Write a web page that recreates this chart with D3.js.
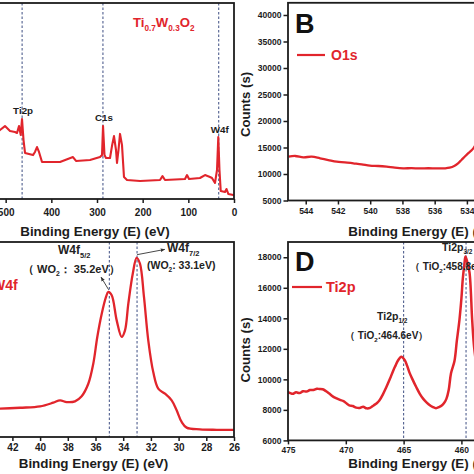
<!DOCTYPE html>
<html><head><meta charset="utf-8">
<script src="https://cdn.jsdelivr.net/npm/d3@7"></script>
<style>body{margin:0;background:#fff} svg{display:block} text{font-family:"Liberation Sans",Arial,Helvetica,sans-serif}</style>
</head><body><svg id="c" width="474" height="474"></svg>
<script>
// ---------- DATA ----------
// A: survey spectrum (binding energy eV, intensity a.u.)
const surveyE = [520, 512.4, 501.5, 490.5, 479.6, 475.2, 470.8, 467.1, 464.2, 460.9, 457.6, 440.2, 435.8, 431.4, 427.0, 420.4, 381.0, 352.6, 346.0, 315.3, 293.4, 289.0, 286.8, 283.6, 280.3, 271.5, 267.2, 262.8, 258.4, 256.2, 252.9, 249.6, 245.3, 240.9, 234.3, 205.8, 162.0, 156.6, 151.1, 107.3, 102.9, 98.5, 74.5, 63.5, 52.6, 48.2, 41.6, 37.2, 34.4, 31.8, 29.1, 19.7, 16.4, 12.5, 1.5, 0];
const surveyI = [34.0, 35.2, 37.2, 34.7, 34.2, 33.7, 37.2, 32.7, 40.8, 30.1, 23.5, 22.4, 24.0, 26.5, 24.0, 18.9, 18.9, 21.4, 19.4, 19.9, 21.4, 22.4, 37.2, 22.4, 20.9, 20.9, 27.0, 32.1, 25.0, 18.4, 25.0, 33.2, 27.6, 11.2, 9.7, 9.2, 9.7, 11.7, 9.7, 10.2, 12.2, 10.2, 10.7, 12.2, 11.2, 10.7, 8.2, 14.8, 31.6, 14.8, 4.1, 3.6, 5.1, 2.6, 2.0, 1.8];
const surveyTicks = [600, 500, 400, 300, 200, 100, 0];
const surveyPeaks = [464, 287, 33.5];
const surveyPeakNames = ["Ti2p", "C1s", "W4f"];

// B: O1s
const o1sE = [545.07, 544.66, 544.14, 543.63, 543.11, 542.6, 542.08, 541.57, 541.05, 540.53, 540.02, 539.5, 538.98, 538.47, 537.95, 537.44, 536.92, 536.4, 535.89, 535.37, 535.07, 534.76, 534.55, 534.34, 534.14, 533.93, 533.73, 533.6, 533.3, 533.0, 532.5, 532.0, 531.5, 531.0, 530.5, 530.0, 529.5, 529.0, 528.0];
const o1sI = [13260, 13400, 13150, 13260, 12960, 12640, 12320, 12210, 12020, 11830, 11570, 11510, 11380, 11190, 11075, 11100, 11050, 11080, 11060, 11075, 11190, 11570, 12020, 12640, 13260, 13900, 14400, 14850, 16500, 19000, 25000, 32000, 38000, 40500, 38000, 28000, 17000, 12000, 10500];
const o1sTicks = [544, 542, 540, 538, 536, 534, 532, 530];
const o1sCountTicks = [5000, 10000, 15000, 20000, 25000, 30000, 35000, 40000];

// C: W4f
const w4fE = [46, 44.5, 42.9, 41.45, 40.0, 39.05, 38.56, 38.08, 37.48, 37.0, 36.52, 36.16, 35.87, 35.55, 35.24, 35.08, 34.83, 34.47, 34.11, 33.87, 33.63, 33.31, 33.03, 32.79, 32.5, 32.19, 31.83, 31.47, 30.98, 30.5, 30.14, 29.78, 29.42, 28.45, 27.24, 26];
const w4fI = [13.8, 14.2, 14.5, 15.0, 15.7, 17.6, 18.8, 17.9, 18.3, 20.9, 27.3, 37.6, 51.3, 63.2, 71.8, 74.4, 72.7, 59.8, 51.3, 54.7, 68.4, 83.7, 91.9, 88.9, 71.8, 49.6, 33.3, 24.8, 22.2, 18.8, 13.7, 7.7, 4.8, 3.9, 3.7, 3.7];
const w4fTicks = [46, 44, 42, 40, 38, 36, 34, 32, 30, 28, 26];
const w4fPeaks = [35.0, 33.0];

// D: Ti2p
const ti2pE = [475.1, 474.8, 474.6, 474.3, 474.0, 473.7, 473.4, 473.1, 472.8, 472.5, 472.3, 472.0, 471.7, 471.4, 471.1, 470.8, 470.5, 470.2, 469.9, 469.7, 469.4, 469.1, 468.8, 468.5, 468.2, 467.9, 467.6, 467.3, 467.1, 466.8, 466.5, 466.2, 465.9, 465.7, 465.5, 465.2, 464.9, 464.7, 464.5, 464.2, 463.9, 463.6, 463.3, 463.0, 462.7, 462.5, 462.2, 461.9, 461.7, 461.5, 461.3, 461.1, 460.9, 460.6, 460.4, 460.17, 460.0, 459.88, 459.75, 459.65, 459.5, 459.3, 459.07, 458.9, 458.6, 458.3, 458.0, 457.5, 456.0, 454.0, 452.0, 451.0];
const ti2pI = [9200, 9100, 9050, 9150, 9100, 9220, 9200, 9300, 9300, 9380, 9370, 9350, 9220, 9050, 8870, 8750, 8650, 8570, 8400, 8290, 8250, 8150, 8130, 8200, 8100, 8130, 8290, 8450, 8610, 9000, 9480, 10000, 10570, 10900, 11220, 11480, 11260, 10900, 10460, 9950, 9480, 9050, 8720, 8480, 8290, 8200, 8110, 8200, 8290, 8450, 8720, 9300, 10400, 11200, 12500, 13900, 15300, 16600, 17500, 18050, 17700, 17000, 13900, 12100, 10500, 9600, 9000, 8600, 8300, 8200, 8100, 8100];
const ti2pTicks = [475, 470, 465, 460, 455];
const ti2pCountTicks = [6000, 8000, 10000, 12000, 14000, 16000, 18000];
const ti2pPeaks = [465.0, 459.6];

// ---------- DRAWING ----------
const RED = "#e1252c", INK = "#1c1c1c", DASH = "#4f5e8e";
const svg = d3.select("#c");
svg.append("rect").attr("width", 474).attr("height", 474).attr("fill", "#fff");
const defs = svg.append("defs");
defs.append("marker").attr("id", "arr").attr("viewBox", "0 0 10 10").attr("refX", 9).attr("refY", 5)
  .attr("markerWidth", 5).attr("markerHeight", 5).attr("orient", "auto")
  .append("path").attr("d", "M0,1 L10,5 L0,9 z").attr("fill", "#333");

function panel(c) {
  const x = d3.scaleLinear().domain(c.xDomain).range(c.xRange);
  const y = d3.scaleLinear().domain(c.yDomain).range(c.yRange);
  const [x0, x1] = c.xRange, [yb, yt] = c.yRange;
  const g = svg.append("g");
  defs.append("clipPath").attr("id", "clip" + c.name).append("rect")
    .attr("x", x0).attr("y", yt).attr("width", x1 - x0).attr("height", yb - yt);
  const plot = g.append("g").attr("clip-path", `url(#clip${c.name})`);
  plot.selectAll("line").data(c.peaks).join("line")
    .attr("x1", d => x(d)).attr("x2", d => x(d)).attr("y1", yt).attr("y2", yb)
    .attr("stroke", DASH).attr("stroke-width", 1.1).attr("stroke-dasharray", "2.5,2");
  const pts = c.E.map((e, i) => [e, c.I[i]]);
  plot.append("path").datum(pts)
    .attr("d", d3.line().x(d => x(d[0])).y(d => y(d[1])).curve(c.curve))
    .attr("fill", "none").attr("stroke", RED).attr("stroke-width", c.lw || 2.3).attr("stroke-linejoin", "round");
  g.append("rect").attr("x", x0).attr("y", yt).attr("width", x1 - x0).attr("height", yb - yt)
    .attr("fill", "none").attr("stroke", INK).attr("stroke-width", 1.8);
  // x axis
  const step = c.xTicks[0] - c.xTicks[1];
  const minor = c.xTicks.map(t => t - step / 2).filter(t => t >= Math.min(...c.xDomain) && t <= Math.max(...c.xDomain));
  const ax = g.append("g").attr("transform", `translate(0,${yb})`);
  ax.call(d3.axisBottom(x).tickValues(minor).tickSize(2.5).tickFormat(""));
  ax.call(d3.axisBottom(x).tickValues(c.xTicks).tickSize(4).tickPadding(c.xPad).tickFormat(d3.format("d")));
  ax.select(".domain").remove();
  ax.selectAll("line").attr("stroke", INK).attr("stroke-width", 1.5);
  ax.selectAll("text").attr("font-size", c.tickFont).attr("font-weight", "bold").attr("fill", INK);
  // y axis
  if (c.yTicks) {
    const ys = c.yTicks[1] - c.yTicks[0];
    const yminor = c.yTicks.map(t => t + ys / 2).filter(t => t <= c.yDomain[1]);
    const ay = g.append("g").attr("transform", `translate(${x0},0)`);
    ay.call(d3.axisLeft(y).tickValues(yminor).tickSize(2.5).tickFormat(""));
    ay.call(d3.axisLeft(y).tickValues(c.yTicks).tickSize(4.5).tickPadding(2).tickFormat(d3.format("d")));
    ay.select(".domain").remove();
    ay.selectAll("line").attr("stroke", INK).attr("stroke-width", 1.5);
    ay.selectAll("text").attr("font-size", c.tickFont).attr("font-weight", "bold").attr("fill", INK);
    g.append("text").attr("transform", `translate(${c.yTitle[0]},${c.yTitle[1]}) rotate(-90)`)
      .attr("text-anchor", "middle").attr("dy", "0.35em").attr("font-size", 13.2).attr("font-weight", "bold")
      .attr("fill", INK).text("Counts (s)");
  }
  g.append("text").attr("x", (x0 + x1) / 2 - 2).attr("y", c.xTitleY).attr("dy", "0.35em").attr("text-anchor", "middle")
    .attr("font-size", 13.4).attr("font-weight", "bold").attr("fill", INK).text("Binding Energy (E) (eV)");
  return { g, x, y, x0, yt, yb };
}

function label(g, px, py, parts, size, weight, fill, anchor) {
  const t = g.append("text").attr("x", px).attr("y", py).attr("font-size", size)
    .attr("font-weight", weight).attr("fill", fill).attr("text-anchor", anchor || "start");
  parts.forEach(p => {
    const s = t.append("tspan").text(p[0]);
    if (p[1] === "sub") s.attr("font-size", size * 0.62).attr("dy", size * 0.3);
    if (p[1] === "up") s.attr("dy", -size * 0.3);
  });
  return t;
}

// Panel A
const A = panel({ name: "A", xDomain: [600, 0], xRange: [-40, 234], yDomain: [0, 100], yRange: [199, 3],
  E: surveyE, I: surveyI, curve: d3.curveLinear, peaks: surveyPeaks, xTicks: surveyTicks, lw: 2.1,
  xPad: 5.4, tickFont: 10, xTitleY: 231 });
surveyPeaks.forEach((p, i) => {
  const yy = [113.5, 121, 132.5][i];
  A.g.append("text").attr("x", A.x(p) + 1).attr("y", yy).attr("text-anchor", "middle")
    .attr("font-size", 9.8).attr("font-weight", "bold").attr("fill", INK).text(surveyPeakNames[i]);
});
label(A.g, 133, 27, [["Ti"], ["0.7", "sub"], ["W", "up"], ["0.3", "sub"], ["O", "up"], ["2", "sub"]], 13.2, "bold", RED);

// Panel B
const B = panel({ name: "B", xDomain: [545.1, 528.1], xRange: [288, 562], yDomain: [5000, 42300], yRange: [200.5, 2.8],
  E: o1sE, I: o1sI, curve: d3.curveCatmullRom.alpha(0.5), peaks: [], xTicks: o1sTicks, yTicks: o1sCountTicks,
  xPad: 3.4, tickFont: 8.5, xTitleY: 231, yTitle: [245.5, 104.5] });
B.g.append("text").attr("x", 295).attr("y", 32.7).attr("font-size", 27).attr("font-weight", "bold").attr("fill", "#111").text("B");
B.g.append("line").attr("x1", 297).attr("x2", 325).attr("y1", 55).attr("y2", 55).attr("stroke", RED).attr("stroke-width", 2.2);
B.g.append("text").attr("x", 331).attr("y", 55).attr("dy", "0.36em").attr("font-size", 14).attr("font-weight", "bold").attr("fill", RED).text("O1s");

// Panel C
const C = panel({ name: "C", xDomain: [46, 26], xRange: [-43, 234], yDomain: [0, 100], yRange: [437, 242],
  E: w4fE, I: w4fI, curve: d3.curveCatmullRom.alpha(0.5), peaks: w4fPeaks, xTicks: w4fTicks,
  xPad: 2.4, tickFont: 10, xTitleY: 463 });
C.g.append("text").attr("x", -8).attr("y", 285).attr("dy", "0.36em").attr("font-size", 14).attr("font-weight", "bold").attr("fill", RED).text("W4f");
label(C.g, 58, 254, [["W4f"], ["5/2", "sub"]], 12, "bold", "#222");
label(C.g, 23, 273, [["（ WO"], ["2", "sub"], ["： 35.2eV）", "up"]], 11, "bold", "#222");
label(C.g, 167, 252, [["W4f"], ["7/2", "sub"]], 12, "bold", "#222");
label(C.g, 147, 268.5, [["(WO"], ["2", "sub"], [": 33.1eV)", "up"]], 10.5, "bold", "#222");
C.g.append("line").attr("x1", C.x(35.05)).attr("y1", C.y(75.5)).attr("x2", C.x(35.6)).attr("y2", C.y(82))
  .attr("stroke", "#333").attr("stroke-width", 0.9).attr("marker-end", "url(#arr)");
C.g.append("line").attr("x1", C.x(33.0)).attr("y1", C.y(93.5)).attr("x2", C.x(31.0)).attr("y2", C.y(96.2))
  .attr("stroke", "#333").attr("stroke-width", 0.9).attr("marker-end", "url(#arr)");

// Panel D
const D = panel({ name: "D", xDomain: [475, 451.3], xRange: [288, 562], yDomain: [6000, 19000], yRange: [440.4, 242],
  E: ti2pE, I: ti2pI, curve: d3.curveCatmullRom.alpha(0.5), peaks: ti2pPeaks, xTicks: ti2pTicks, yTicks: ti2pCountTicks,
  xPad: 2.2, tickFont: 8.5, xTitleY: 463, yTitle: [245.5, 350], lw: 2.5 });
D.g.append("text").attr("x", 295).attr("y", 271.3).attr("font-size", 27).attr("font-weight", "bold").attr("fill", "#111").text("D");
D.g.append("line").attr("x1", 292).attr("x2", 322).attr("y1", 287).attr("y2", 287).attr("stroke", RED).attr("stroke-width", 2.2);
D.g.append("text").attr("x", 326).attr("y", 287).attr("dy", "0.36em").attr("font-size", 14.5).attr("font-weight", "bold").attr("fill", RED).text("Ti2p");
label(D.g, 377, 320, [["Ti2p"], ["1/2", "sub"]], 10.5, "bold", "#222");
label(D.g, 345, 339, [["（ TiO"], ["2", "sub"], [":464.6eV）", "up"]], 10, "bold", "#222");
label(D.g, 442, 251, [["Ti2p"], ["3/2", "sub"]], 10.5, "bold", "#222");
label(D.g, 410, 269.5, [["（ TiO"], ["2", "sub"], [":458.8eV）", "up"]], 10, "bold", "#222");
</script></body></html>
